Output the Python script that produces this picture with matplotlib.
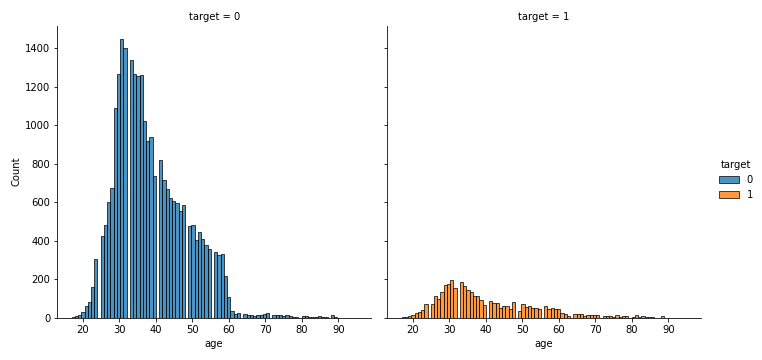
import numpy as np
import pandas as pd
import seaborn as sns
import matplotlib.pyplot as plt

ages = list(range(17, 96))

# counts per age, target = 0
counts_0 = [5, 10, 14, 29, 61, 83, 161, 306,
            424, 482, 602, 675, 1091, 1268, 1446, 1400,
            1339, 1268, 1257, 1262, 1022, 920, 938, 738,
            819, 715, 668, 621, 604, 597, 554, 585,
            476, 481, 404, 447, 411, 378, 357,
            343, 327, 331, 217, 109, 36, 20, 27,
            20, 14, 14, 10, 14, 14, 21, 26,
            14, 14, 14, 10, 14, 8, 6, 3,
            10, 10, 6, 6, 3, 7, 2, 2,
            14, 2, 1, 1, 1, 0, 0, 1]

# counts per age, target = 1
counts_1 = [3, 6, 10, 16, 22, 32, 42, 70,
            72, 114, 95, 134, 170, 174, 196, 156,
            186, 166, 145, 134, 113, 113, 92, 66,
            88, 78, 74, 53, 61, 61, 46, 82,
            35, 70, 55, 61, 52, 52, 43,
            62, 45, 52, 45, 45, 26, 19, 10,
            19, 17, 21, 10, 14, 14, 14, 14,
            9, 9, 9, 5, 14, 5, 10, 7,
            2, 14, 5, 9, 5, 2, 2, 1,
            10, 1, 0, 0, 1, 0, 0, 0]

df = pd.DataFrame({
    "age": ages * 2,
    "target": [0] * len(ages) + [1] * len(ages),
    "count": counts_0 + counts_1,
})

g = sns.displot(df, x="age", col="target", hue="target", weights="count",
                bins=88, linewidth=0.7, alpha=0.8)
g.set_axis_labels("age", "Count")

g.figure.set_size_inches(762 / 72, 360 / 72)
g.figure.subplots_adjust(left=0.0752, right=0.92, bottom=0.1175, top=0.929, wspace=0.052)

plt.savefig("out.png", dpi=72)
